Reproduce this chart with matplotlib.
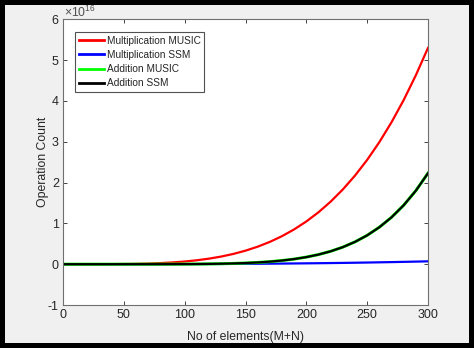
import matplotlib
matplotlib.use("Agg")
import matplotlib.pyplot as plt
import numpy as np

plt.rcParams['font.family'] = ['Liberation Sans', 'DejaVu Sans']
plt.rcParams['mathtext.fontset'] = 'custom'
plt.rcParams['mathtext.rm'] = 'Liberation Sans'
plt.rcParams['mathtext.it'] = 'Liberation Sans'
plt.rcParams['axes.unicode_minus'] = False

# values in units of 1e16
x = [0, 10, 20, 30, 40, 50, 60, 70, 80, 90, 100, 110, 120, 130, 140, 150,
     160, 170, 180, 190, 200, 210, 220, 230, 240, 250, 260, 270, 280, 290, 300]
mult_music = [0, 0.0000, 0.0001, 0.0005, 0.0017, 0.0041, 0.0085, 0.0157, 0.0268,
              0.0429, 0.0654, 0.0958, 0.1357, 0.1869, 0.2513, 0.3313, 0.4288,
              0.5466, 0.6869, 0.8527, 1.0469, 1.2725, 1.5327, 1.831, 2.171,
              2.556, 2.990, 3.477, 4.021, 4.628, 5.30]
mult_ssm = [0, 0.0000, 0.0000, 0.0001, 0.0002, 0.0003, 0.0006, 0.0009, 0.0013,
            0.0019, 0.0026, 0.0035, 0.0045, 0.0057, 0.0071, 0.0088, 0.0106,
            0.0127, 0.0151, 0.0178, 0.0207, 0.0240, 0.0276, 0.0315, 0.0358,
            0.0405, 0.0456, 0.0510, 0.0569, 0.0632, 0.070]
add_ssm = [0, 0, 0, 0, 0, 0.00003, 0.0001, 0.0002, 0.0004, 0.0010, 0.0022,
           0.0040, 0.0069, 0.0115, 0.0183, 0.0283, 0.0425, 0.0622, 0.0893,
           0.1254, 0.1734, 0.2357, 0.3160, 0.4181, 0.5468, 0.7069, 0.9054,
           1.148, 1.444, 1.801, 2.23]
add_music = list(add_ssm)

labels = ['Multiplication MUSIC', 'Multiplication SSM', 'Addition MUSIC', 'Addition SSM']
colors = ['#ff0000', '#0000ff', '#00ff00', '#000000']
yticks = [-1, 0, 1, 2, 3, 4, 5, 6]
xticks = [0, 50, 100, 150, 200, 250, 300]

fig = plt.figure(figsize=(4.74, 3.48), dpi=100, facecolor='#f0f0f0',
                 edgecolor='black', linewidth=6)
ax = fig.add_axes([63/474, 1-305/348, 365/474, (305-19.3)/348])
ax.set_facecolor('white')

series = [mult_music, mult_ssm, add_music, add_ssm]
widths = [1.6, 1.6, 2.2, 1.6]
for s, lab, c, w in zip(series, labels, colors, widths):
    ax.plot(x, s, color=c, lw=w, label=lab)

ax.set_xlim(0, 300)
ax.set_ylim(-1, 6)
ax.set_xticks(xticks)
ax.set_yticks(yticks)
ax.tick_params(direction='in', top=True, right=True, length=3, width=0.6,
               labelsize=9, colors='#262626', pad=3)
for sp in ax.spines.values():
    sp.set_color('#707070')
    sp.set_linewidth(0.8)

ax.set_xlabel('No of elements(M+N)', fontsize=8.8, color='#262626', labelpad=7)
ax.set_ylabel('Operation Count', fontsize=8.8, color='#262626', labelpad=-1)
ax.text(0.003, 1.009, r'$\times 10^{16}$', transform=ax.transAxes, fontsize=8.8,
        color='#505050', ha='left', va='baseline')

leg = ax.legend(loc='upper left', bbox_to_anchor=(0.033, 0.955), fontsize=7.3,
                frameon=True, fancybox=False, handlelength=2.5, handletextpad=0.3,
                borderpad=0.35, labelspacing=0.42, borderaxespad=0.0)
leg.get_frame().set_edgecolor('#262626')
leg.get_frame().set_linewidth(0.8)
for t in leg.get_texts():
    t.set_color('#262626')
for line in leg.get_lines():
    line.set_linewidth(2)

fig.savefig('out.png', dpi=100, facecolor=fig.get_facecolor(), edgecolor=fig.get_edgecolor())
